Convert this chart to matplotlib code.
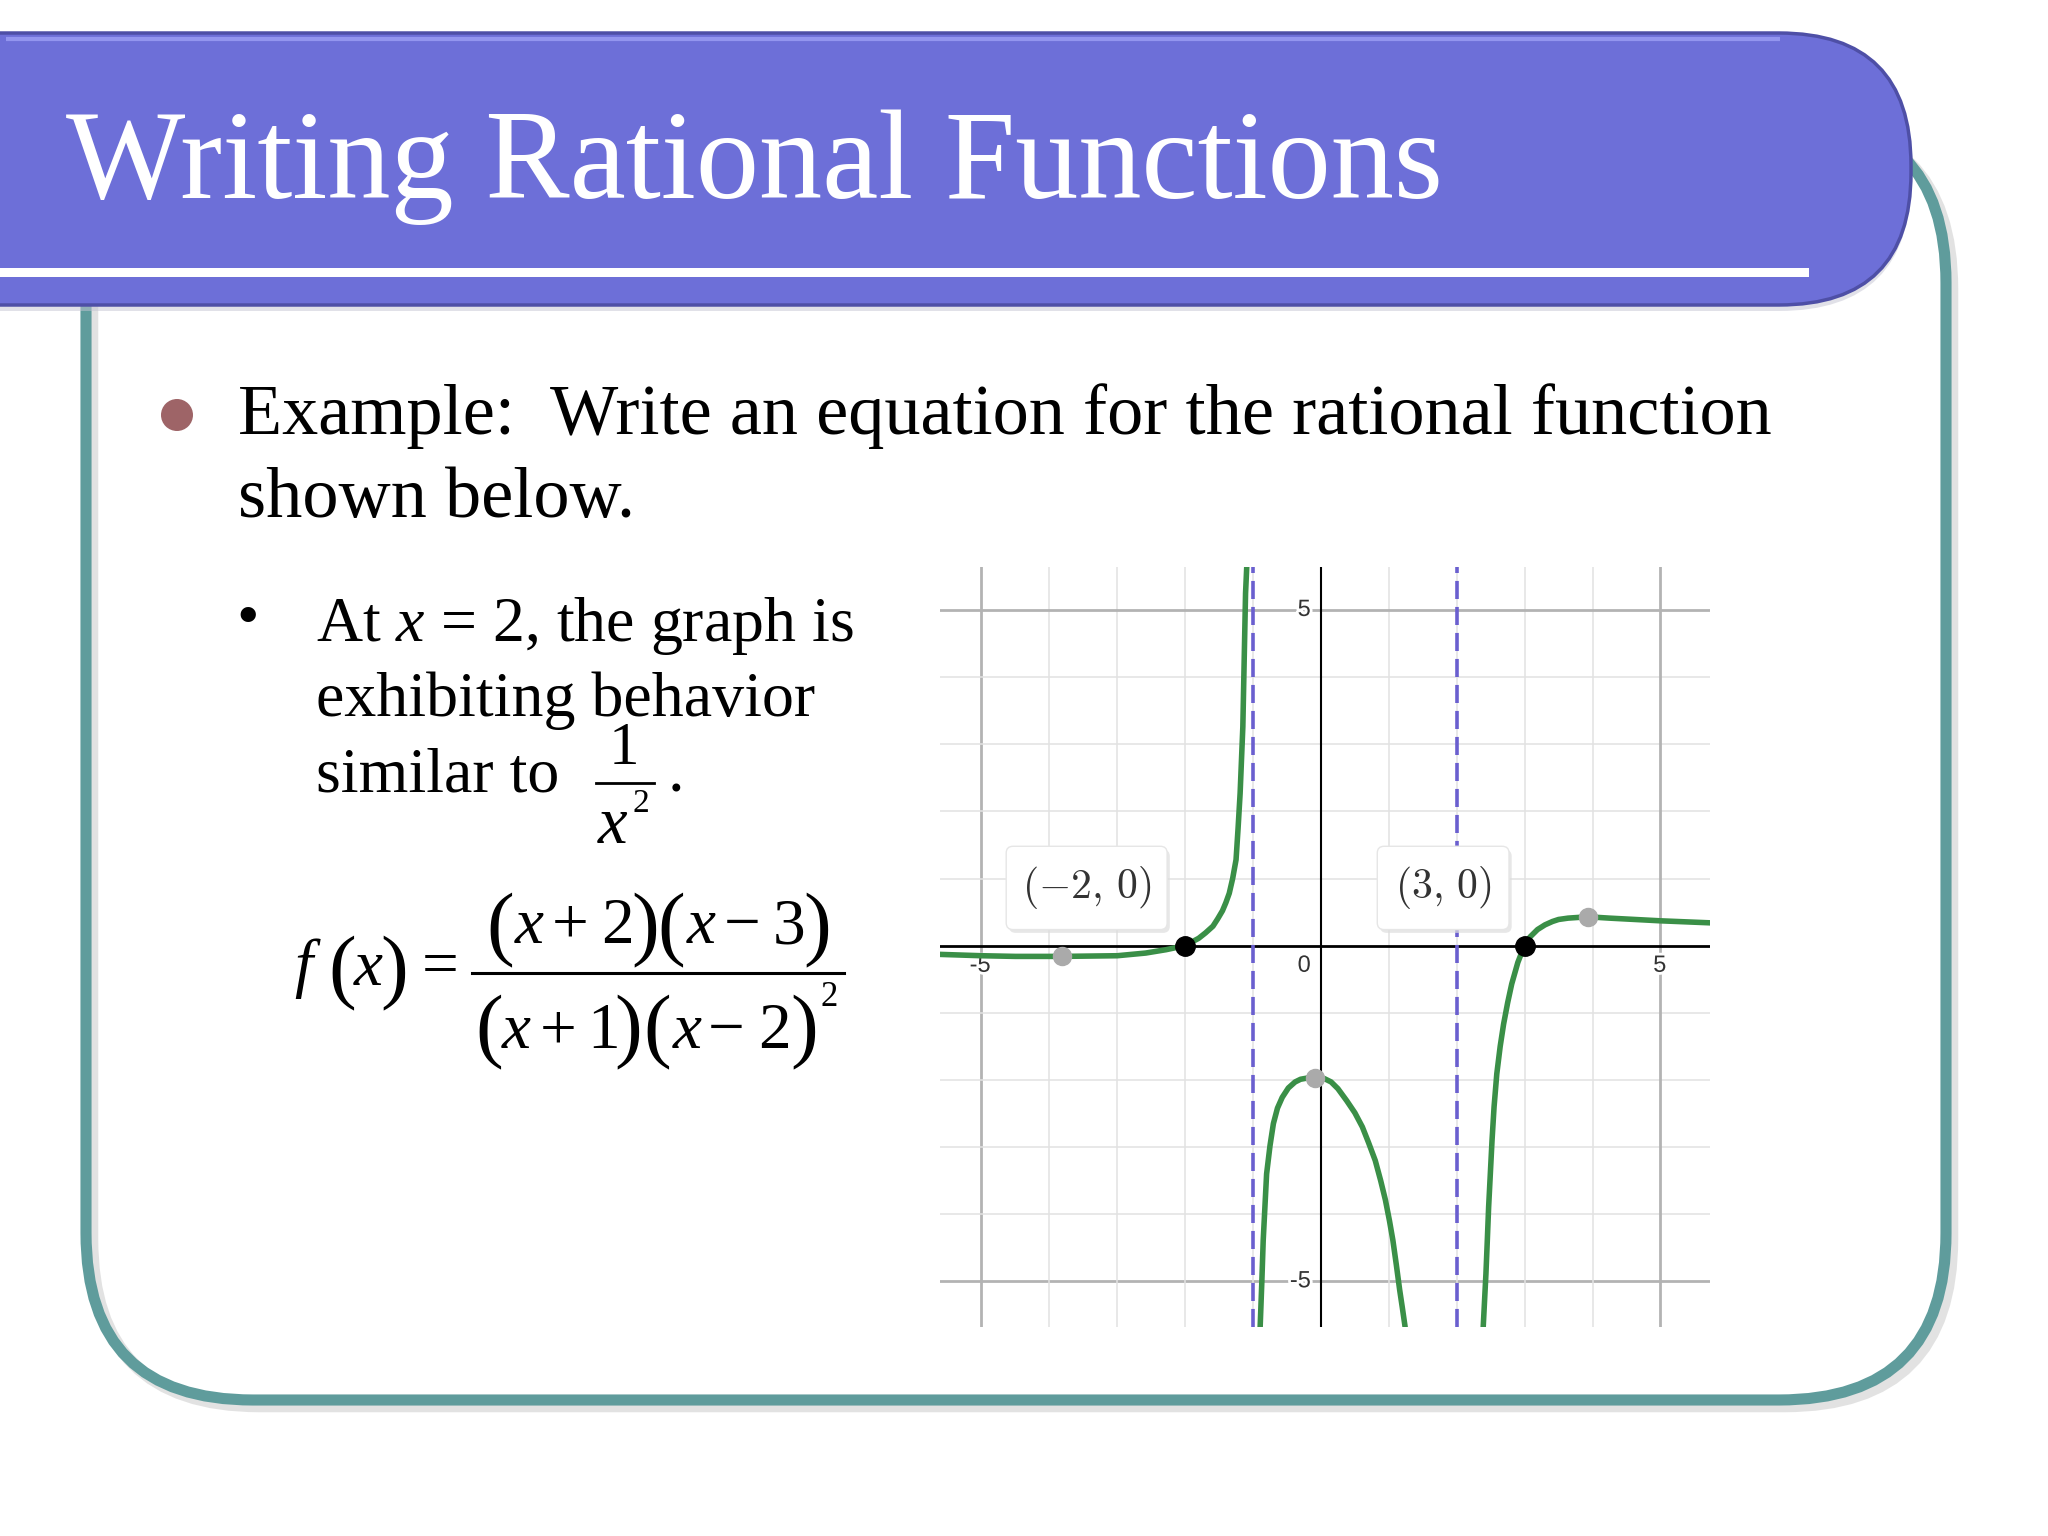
import matplotlib
matplotlib.use("Agg")
import matplotlib.pyplot as plt
import matplotlib.patheffects as pe
from matplotlib.patches import FancyBboxPatch, Circle, Rectangle

W, H = 2048, 1536
SERIF = "Liberation Serif"

plt.rcParams["mathtext.fontset"] = "custom"
plt.rcParams["mathtext.rm"] = SERIF
plt.rcParams["mathtext.it"] = SERIF + ":italic"
plt.rcParams["mathtext.bf"] = SERIF + ":bold"

# slide text
TITLE = "Writing Rational Functions"
BULLET_LINES = ["Example:  Write an equation for the rational function",
                "shown below."]
SUB_LINES = ["At $x$ = 2, the graph is", "exhibiting behavior", "similar to"]

# graph data
ASYMPTOTES = [-1, 2]
LEFT_X = [-5.61, -5.0, -4.5, -3.81, -3.0, -2.58, -2.28, -2.0, -1.80, -1.70,
          -1.59, -1.52, -1.45, -1.40, -1.35, -1.30, -1.25, -1.22, -1.19,
          -1.15, -1.13, -1.11, -1.09]
LEFT_Y = [-0.13, -0.15, -0.16, -0.16, -0.15, -0.11, -0.06, 0.0, 0.11, 0.19,
          0.29, 0.40, 0.52, 0.64, 0.78, 1.00, 1.28, 1.75, 2.27, 3.26, 4.26,
          5.25, 5.70]
MID_X = [-0.895, -0.87, -0.85, -0.80, -0.75, -0.70, -0.64, -0.57, -0.48,
         -0.38, -0.30, -0.19, -0.08, 0.05, 0.15, 0.25, 0.38, 0.50, 0.61,
         0.70, 0.80, 0.88, 0.95, 1.01, 1.06, 1.11, 1.16, 1.20, 1.24]
MID_Y = [-5.68, -5.0, -4.39, -3.40, -2.98, -2.65, -2.42, -2.26, -2.12,
         -2.03, -1.99, -1.97, -1.96, -1.98, -2.03, -2.13, -2.31, -2.49,
         -2.70, -2.93, -3.20, -3.50, -3.79, -4.10, -4.39, -4.75, -5.13,
         -5.40, -5.68]
RIGHT_X = [2.39, 2.43, 2.45, 2.47, 2.52, 2.55, 2.59, 2.64, 2.69, 2.75, 2.81,
           2.90, 2.95, 3.0, 3.08, 3.19, 3.30, 3.41, 3.50, 3.64, 3.93, 4.25,
           5.0, 5.73]
RIGHT_Y = [-5.68, -4.89, -4.40, -3.89, -2.90, -2.40, -1.91, -1.50, -1.17,
           -0.85, -0.57, -0.25, -0.12, 0.0, 0.13, 0.24, 0.31, 0.36, 0.39,
           0.41, 0.43, 0.41, 0.37, 0.34]
ZEROS_X = [-2, 3]
ZEROS_Y = [0, 0]
EXTREMA_X = [-3.81, -0.08, 3.93]
EXTREMA_Y = [-0.16, -1.97, 0.43]
POINT_LABELS = [r"$(-2,\,0)$", r"$(3,\,0)$"]
LABEL_X = [-3.45, 1.80]
LABEL_Y = [0.86, 0.86]

fig = plt.figure(figsize=(W / 100, H / 100), dpi=100)
bg = fig.add_axes([0, 0, 1, 1])
bg.set_xlim(0, W)
bg.set_ylim(H, 0)
bg.axis("off")

# teal frame with soft shadow
for off, col, lw, al in [(6, "#cfcfcf", 9, 0.6), (0, "#5f9c9c", 8, 1.0)]:
    bg.add_patch(FancyBboxPatch((86 + off, 116 + off), 1860, 1284,
                                boxstyle="round,pad=0,rounding_size=167",
                                fill=False, ec=col, lw=lw, alpha=al, zorder=2))

# title banner
bg.add_patch(FancyBboxPatch((-300, 39), 2211, 272,
                            boxstyle="round,pad=0,rounding_size=132",
                            fc="#c4c4d2", ec="none", alpha=0.5, zorder=3))
bg.add_patch(FancyBboxPatch((-300, 33), 2211, 272,
                            boxstyle="round,pad=0,rounding_size=132",
                            fc="#6d6fd8", ec="#4e4fa6", lw=2.5, zorder=4))
bg.plot([6, 1780], [39, 39], color="#9395ef", lw=3, zorder=4.5,
        solid_capstyle="butt")
bg.add_patch(Rectangle((0, 268), 1809, 9, fc="white", ec="none", zorder=5))
bg.text(66, 198, TITLE, fontsize=91, color="white", family=SERIF,
        va="baseline", zorder=6)

# bullets
bg.add_patch(Circle((177, 415), 16, fc="#9e6467", ec="none", zorder=3))
for i, line in enumerate(BULLET_LINES):
    bg.text(238, 434 + 83 * i, line, fontsize=52, family=SERIF,
            va="baseline", color="black")

bg.text(248, 636, "\u2022", fontsize=46, family=SERIF, ha="center",
        va="baseline")
for i, line in enumerate(SUB_LINES):
    bg.text(316, 641 + 75 * i, line, fontsize=46, family=SERIF,
            va="baseline", color="black")

# 1 / x^2
bg.text(624, 764, "1", fontsize=44, family=SERIF, ha="center", va="baseline")
bg.plot([596, 654], [783, 783], color="black", lw=2)
bg.text(613, 843, "x", fontsize=48, family=SERIF, style="italic",
        ha="center", va="baseline")
bg.text(641, 812, "2", fontsize=24, family=SERIF, ha="center", va="baseline")
bg.text(676, 791, ".", fontsize=48, family=SERIF, ha="center", va="baseline")

# f(x) = (x+2)(x-3) / ((x+1)(x-2)^2)
MINUS = "\u2212"
rows = [
    (985, [("f", 303, True), ("x", 368, True), ("=", 440, False)],
     993, [342, 394]),
    (943, [("x", 529, True), ("+", 570, False), ("2", 617, False),
           ("x", 701, True), (MINUS, 742, False), ("3", 789, False)],
     950, [500, 645, 671, 817]),
    (1048, [("x", 516, True), ("+", 558, False), ("1", 604, False),
            ("x", 687, True), (MINUS, 726, False), ("2", 774, False)],
     1052, [489, 628, 657, 804]),
]
for base, chars, pbase, parens in rows:
    for ch, cx, ital in chars:
        bg.text(cx, base, ch, fontsize=47, family=SERIF,
                style="italic" if ital else "normal", ha="center",
                va="baseline")
    for k, px in enumerate(parens):
        bg.text(px, pbase, "(" if k % 2 == 0 else ")", fontsize=60,
                family=SERIF, ha="center", va="baseline")
bg.text(829, 1006, "2", fontsize=25, family=SERIF, ha="center", va="baseline")
bg.plot([472, 844], [973, 973], color="black", lw=2.2)

# graph
ax = fig.add_axes([940 / W, 1 - 1327 / H, 770 / W, 760 / H])
ax.set_xlim(-5.61, 5.73)
ax.set_ylim(-5.68, 5.64)
ax.axis("off")
for g in range(-5, 6):
    if g == 0:
        continue
    major = abs(g) == 5
    col = "#b3b3b3" if major else "#e2e2e2"
    lw = 2.0 if major else 1.1
    ax.axvline(g, color=col, lw=lw, zorder=1)
    ax.axhline(g, color=col, lw=lw, zorder=1)
ax.axhline(0, color="black", lw=2.0, zorder=2)
ax.axvline(0, color="black", lw=1.5, zorder=2)

halo = [pe.withStroke(linewidth=4, foreground="white")]
tick_kw = dict(fontsize=17, family="Liberation Sans", color="#333333",
               path_effects=halo, zorder=3)
ax.text(-0.15, 5.0, "5", ha="right", va="center", **tick_kw)
ax.text(-0.15, -5.0, "-5", ha="right", va="center", **tick_kw)
ax.text(-0.15, -0.30, "0", ha="right", va="center", **tick_kw)
ax.text(-5.02, -0.30, "-5", ha="center", va="center", **tick_kw)
ax.text(4.99, -0.30, "5", ha="center", va="center", **tick_kw)

for a in ASYMPTOTES:
    ax.axvline(a, color="#6a5fcf", lw=2.6, dashes=(5, 2.2), zorder=3)

for xs, ys in [(LEFT_X, LEFT_Y), (MID_X, MID_Y), (RIGHT_X, RIGHT_Y)]:
    ax.plot(xs, ys, color="#3a8f47", lw=4.0, solid_joinstyle="round",
            solid_capstyle="round", zorder=4)

ax.plot(EXTREMA_X, EXTREMA_Y, "o", color="#aaaaaa", ms=13, zorder=5)
ax.plot(ZEROS_X, ZEROS_Y, "o", color="black", ms=14, zorder=5)

for lab, lx, ly in zip(POINT_LABELS, LABEL_X, LABEL_Y):
    w, h = 2.37 if "-" in lab else 1.94, 1.24
    ax.add_patch(FancyBboxPatch((lx - w / 2 + 0.04, ly - h / 2 - 0.05), w, h,
                                boxstyle="round,pad=0,rounding_size=0.1",
                                fc="#dedede", ec="none", alpha=0.7, zorder=6))
    ax.add_patch(FancyBboxPatch((lx - w / 2, ly - h / 2), w, h,
                                boxstyle="round,pad=0,rounding_size=0.1",
                                fc="white", ec="#e6e6e6", lw=1, zorder=7))
    ax.text(lx, ly, lab, fontsize=30, color="#333333", math_fontfamily="cm",
            ha="center", va="center", zorder=8)

fig.savefig("out.png", dpi=100, facecolor="white")
